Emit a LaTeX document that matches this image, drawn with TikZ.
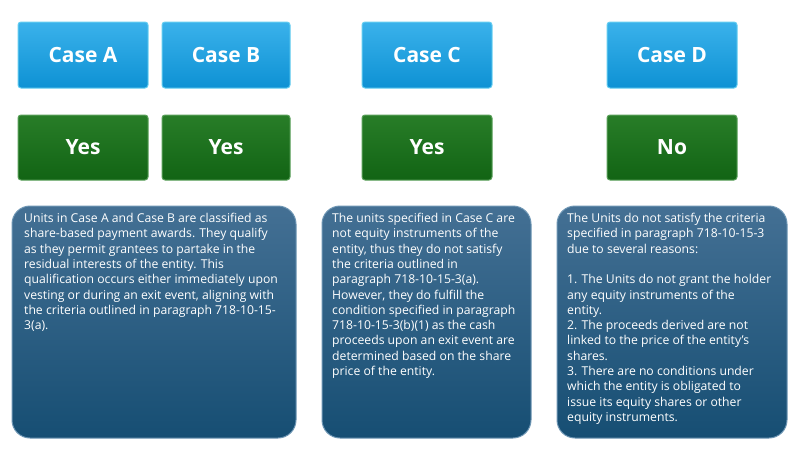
\documentclass[tikz,border=0pt]{standalone}
\usepackage{fontspec}
\setmainfont{Open Sans}
\begin{document}
\begin{tikzpicture}[x=1pt,y=-1pt,
 casebox/.style={rounded corners=3pt,top color={rgb,255:red,58;green,178;blue,235},bottom color={rgb,255:red,14;green,145;blue,212},draw={rgb,255:red,100;green,205;blue,240},line width=1pt},
 yesbox/.style={rounded corners=3pt,top color={rgb,255:red,40;green,125;blue,40},bottom color={rgb,255:red,18;green,100;blue,20},draw={rgb,255:red,90;green,160;blue,90},line width=1pt},
 txtbox/.style={rounded corners=18pt,top color={rgb,255:red,68;green,112;blue,148},bottom color={rgb,255:red,22;green,78;blue,115},draw={rgb,255:red,110;green,150;blue,180},line width=1pt},
 lbl/.style={text=white,font=\fontsize{21}{25}\selectfont\bfseries},
 body/.style={text=white,font=\fontsize{12.2}{15.3}\selectfont,align=left,anchor=north west,inner sep=0pt}]
\useasboundingbox (0,0) rectangle (800,450);
\fill[white] (0,0) rectangle (800,450);
\path[casebox] (18,22) rectangle (148,88); \node[lbl] (ca) at (83,55) {Case A};
\path[casebox] (162,22) rectangle (290,88); \node[lbl] (cb) at (226,55) {Case B};
\path[casebox] (362,22) rectangle (492,88); \node[lbl] (cc) at (427,55) {Case C};
\path[casebox] (607,22) rectangle (737,88); \node[lbl] (cd) at (672,55) {Case D};
\path[yesbox] (18,115) rectangle (148,180); \node[lbl] (ya) at (83,147) {Yes};
\path[yesbox] (162,115) rectangle (290,180); \node[lbl] (yb) at (226,147) {Yes};
\path[yesbox] (362,115) rectangle (492,180); \node[lbl] (yc) at (427,147) {Yes};
\path[yesbox] (607,115) rectangle (737,180); \node[lbl] (nd) at (672,147) {No};
\path[txtbox] (12,206) rectangle (296,438);
\path[txtbox] (322,206) rectangle (531,438);
\path[txtbox] (557,206) rectangle (787,438);
\node[body] (ta) at (24,213) {Units in Case A and Case B are classified as\\share-based payment awards. They qualify\\as they permit grantees to partake in the\\residual interests of the entity. This\\qualification occurs either immediately upon\\vesting or during an exit event, aligning with\\the criteria outlined in paragraph 718-10-15-\\3(a).};
\node[body] (tc) at (332,213) {The units specified in Case C are\\not equity instruments of the\\entity, thus they do not satisfy\\the criteria outlined in\\paragraph 718-10-15-3(a).\\However, they do fulfill the\\condition specified in paragraph\\718-10-15-3(b)(1) as the cash\\proceeds upon an exit event are\\determined based on the share\\price of the entity.};
\node[body] (td) at (567,213) {The Units do not satisfy the criteria\\specified in paragraph 718-10-15-3\\due to several reasons:\\[15.3pt]1. The Units do not grant the holder\\any equity instruments of the\\entity.\\2. The proceeds derived are not\\linked to the price of the entity's\\shares.\\3. There are no conditions under\\which the entity is obligated to\\issue its equity shares or other\\equity instruments.};
\end{tikzpicture}
\end{document}
